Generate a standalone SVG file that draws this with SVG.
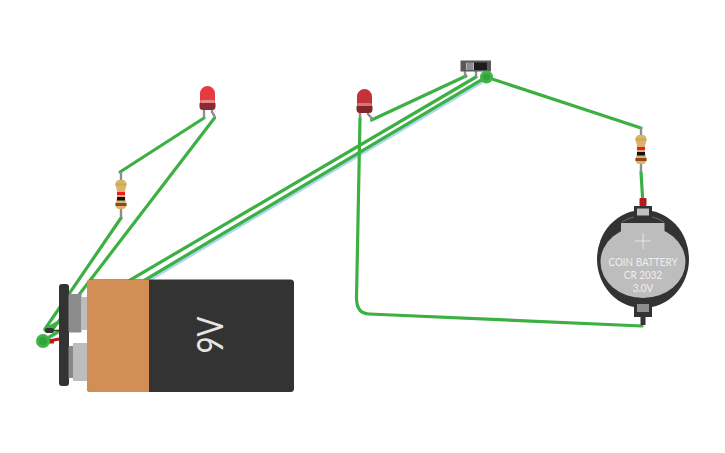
<svg xmlns="http://www.w3.org/2000/svg" width="725" height="453" viewBox="0 0 725 453">
<style>
.w{fill:none;stroke:#3cb043;stroke-width:3.200;stroke-linecap:round;stroke-linejoin:round}
.b{fill:none;stroke:#aed6f1;stroke-width:3.500}
.l{fill:none;stroke:#8e8e8e;stroke-width:2.400}
.t{font-family:"Lato","Open Sans","Liberation Sans",sans-serif;font-weight:400;fill:#eeeeee;text-anchor:middle}
</style>
<defs>
<g id="res">
<path d="M0 -22.500V22.500" class="l"/>
<path d="M-2 -14.500C-4.500 -14.500 -5.500 -12 -5.500 -10C-5.500 -8 -4 -6 -4 -2V2C-4 6 -5.500 8 -5.500 10C-5.500 12 -4.500 14.500 -2 14.500H2C4.500 14.500 5.500 12 5.500 10C5.500 8 4 6 4 2V-2C4 -6 5.500 -8 5.500 -10C5.500 -12 4.500 -14.500 2 -14.500Z" fill="#dcb271"/>
<rect x="-5.500" y="-11" width="11" height="2" fill="#c8ad46"/>
<rect x="-4" y="-2.500" width="8" height="3" fill="#ee1c1c"/>
<rect x="-4" y="2.500" width="8" height="3.500" fill="#111"/>
<rect x="-5.500" y="8.500" width="11" height="3" fill="#8a4b1c"/>
</g>
</defs>
<g id="connectors">
<path class="b" d="M487.500 78.500L149 280"/>
<path class="b" d="M70 325.500L47 339"/>
<path class="w" d="M120 172L204 118"/>
<path class="w" d="M121 218L45 329"/>
<path class="w" d="M214.500 118L52 330"/>
<path class="w" d="M371.500 120L466 76"/>
<path class="w" d="M476 77L45 330"/>
<path class="w" d="M486 77L44 340"/>
<path class="w" d="M486 77L641 128"/>
<path class="w" d="M641 172L643 205"/>
<path class="w" d="M360 118L356.500 298Q356.500 313.500 369 314L642 326"/>
</g>
<g id="battery-9v">
<rect x="59" y="284" width="10" height="102" rx="3" fill="#333"/>
<rect x="68.500" y="294" width="13" height="38.500" rx="1" fill="#8c8c8c"/>
<rect x="81" y="297" width="7" height="33" fill="#bdbdbd"/>
<rect x="68.500" y="346" width="5" height="32" fill="#888"/>
<rect x="73" y="343" width="15" height="38" rx="1" fill="#bdbdbd"/>
<rect x="87" y="279.500" width="207" height="112.500" rx="3.500" fill="#333"/>
<path d="M149 279.500H90.500Q87 279.500 87 283V388.500Q87 392 90.500 392H149Z" fill="#d18f55"/>
<text class="t" transform="translate(223 335) rotate(-90)" font-size="36" textLength="37" lengthAdjust="spacingAndGlyphs" style="fill:#e4e4e4">9V</text>
</g>
<g id="battery-clips">
<path d="M45 330.500H59" stroke="#333" stroke-width="1.500"/>
<rect x="45" y="328" width="9" height="5" rx="2" fill="#333"/>
<path d="M49 341L59 339" stroke="#b51a1a" stroke-width="3"/>
<rect x="49" y="339" width="5" height="4.500" fill="#b51a1a"/>
</g>
<g id="probe-left">
<circle cx="43" cy="341" r="7" fill="#3fb544"/>
<circle cx="43" cy="341" r="4" fill="#35a33d"/>
</g>
<g id="resistor-left"><use href="#res" transform="translate(121 194.500)"/></g>
<g id="led-1">
<path d="M204 110V118M212 110V112L214.500 116V118" class="l"/>
<path d="M200 102V93.500A7.500 7.500 0 0 1 215 93.500V102Z" fill="#e53b42"/>
<rect x="199.500" y="101" width="16" height="9" rx="3.500" fill="#8b2a30"/>
<rect x="200" y="100" width="15" height="3" rx="1.500" fill="#e8898c"/>
</g>
<g id="led-2">
<path d="M360 112V118M368 112V114L371.500 118V120" class="l"/>
<path d="M357 105V96.500A7.500 7.500 0 0 1 372 96.500V105Z" fill="#c53338"/>
<rect x="356.500" y="104" width="16" height="9" rx="3.500" fill="#82262b"/>
<rect x="357" y="103" width="15" height="3" rx="1.500" fill="#cf7679"/>
</g>
<g id="switch">
<path d="M465 71V77M476 71V77M486 71V75" class="l"/>
<rect x="460.500" y="60.500" width="30.500" height="11" fill="#5a5a5a"/>
<rect x="466" y="62.500" width="21" height="7.500" fill="#1c1c1c"/>
<rect x="466" y="62.500" width="8" height="7.500" fill="#b4b4b4"/>
<path d="M468 62.500V70M470 62.500V70M472 62.500V70" stroke="#555" stroke-width=".8"/>
</g>
<g id="probe-switch">
<circle cx="486.500" cy="77" r="6.500" fill="#3fb544"/>
<circle cx="486.500" cy="77" r="3.500" fill="#35a33d"/>
</g>
<g id="resistor-right"><use href="#res" transform="translate(641 149.500)"/></g>
<g id="coin-battery">
<rect x="639.500" y="198" width="7" height="8" rx="1" fill="#b51a1a"/>
<ellipse cx="643" cy="259" rx="46" ry="49" fill="#333"/>
<rect x="634" y="206" width="18" height="12" fill="#333"/>
<rect x="637" y="208.500" width="12" height="7" fill="#c0c0c0"/>
<path d="M622 222Q628 218 634 217M652 217Q658 218 664 222" fill="none" stroke="#777" stroke-width=".8"/>
<ellipse cx="643" cy="262" rx="42.500" ry="36" fill="#bdbdbd"/>
<rect x="621" y="223" width="43.500" height="12" fill="#bdbdbd"/>
<rect x="634" y="303" width="18" height="14" fill="#333"/>
<rect x="637" y="304" width="12" height="8" fill="#8e8e8e"/>
<path d="M643 317V325" stroke="#333" stroke-width="5"/>
<path d="M643 233V249M635 241H651" stroke="#f0f0f0" stroke-width=".8"/>
<text class="t" transform="translate(643 0) scale(.92 1)" font-size="10.800"><tspan x="0" y="266">COIN BATTERY</tspan><tspan x="0" y="279">CR 2032</tspan><tspan x="0" y="292">3.0V</tspan></text>
</g>
</svg>
